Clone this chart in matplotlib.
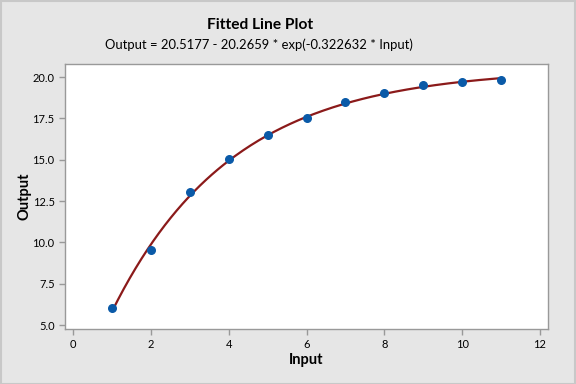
import numpy as np
import matplotlib.pyplot as plt

inputs = [1, 2, 3, 4, 5, 6, 7, 8, 9, 10, 11]
outputs = [6.02, 9.54, 13.05, 15.04, 16.49, 17.52, 18.47, 19.03, 19.5, 19.68, 19.8]

# fitted model shown in the subtitle
a, b, c = 20.5177, 20.2659, -0.322632

plt.rcParams['font.family'] = ['Lato', 'DejaVu Sans']

fig = plt.figure(figsize=(5.76, 3.84), dpi=100, facecolor='#e6e6e6')
ax = fig.add_axes([65 / 576, 1 - 329 / 384, 483 / 576, 265 / 384])

xx = np.linspace(1, 11, 200)
ax.plot(xx, a - b * np.exp(c * xx), color='#8b1a1a', lw=1.6, zorder=2)
ax.scatter(inputs, outputs, s=30, color='#0a5aa8', zorder=3)

ax.set_xlim(-0.213, 12.21)
ax.set_ylim(4.76, 20.79)
ax.set_xticks([0, 2, 4, 6, 8, 10, 12])
ax.set_yticks([5.0, 7.5, 10.0, 12.5, 15.0, 17.5, 20.0])
ax.set_yticklabels(['5.0', '7.5', '10.0', '12.5', '15.0', '17.5', '20.0'])
ax.tick_params(labelsize=8, colors='#999999', labelcolor='black', length=4, width=1)
for s in ax.spines.values():
    s.set_color('#999999')
    s.set_linewidth(1)

ax.set_xlabel('Input', fontsize=10.5, fontweight='bold', labelpad=2)
ax.set_ylabel('Output', fontsize=10.5, fontweight='bold', labelpad=1)

fig.text(260 / 576, 1 - 25 / 384, 'Fitted Line Plot', ha='center', va='center',
         fontsize=11.2, fontweight='bold')
fig.text(259 / 576, 1 - 45 / 384, 'Output = 20.5177 - 20.2659 * exp(-0.322632 * Input)',
         ha='center', va='center', fontsize=9.4)

fig.patches.append(plt.Rectangle((0.001, 0.001), 0.997, 0.997, transform=fig.transFigure,
                                 fill=False, edgecolor='#c8c8c8', lw=1.5))

fig.savefig('out.png', dpi=100, facecolor=fig.get_facecolor())
